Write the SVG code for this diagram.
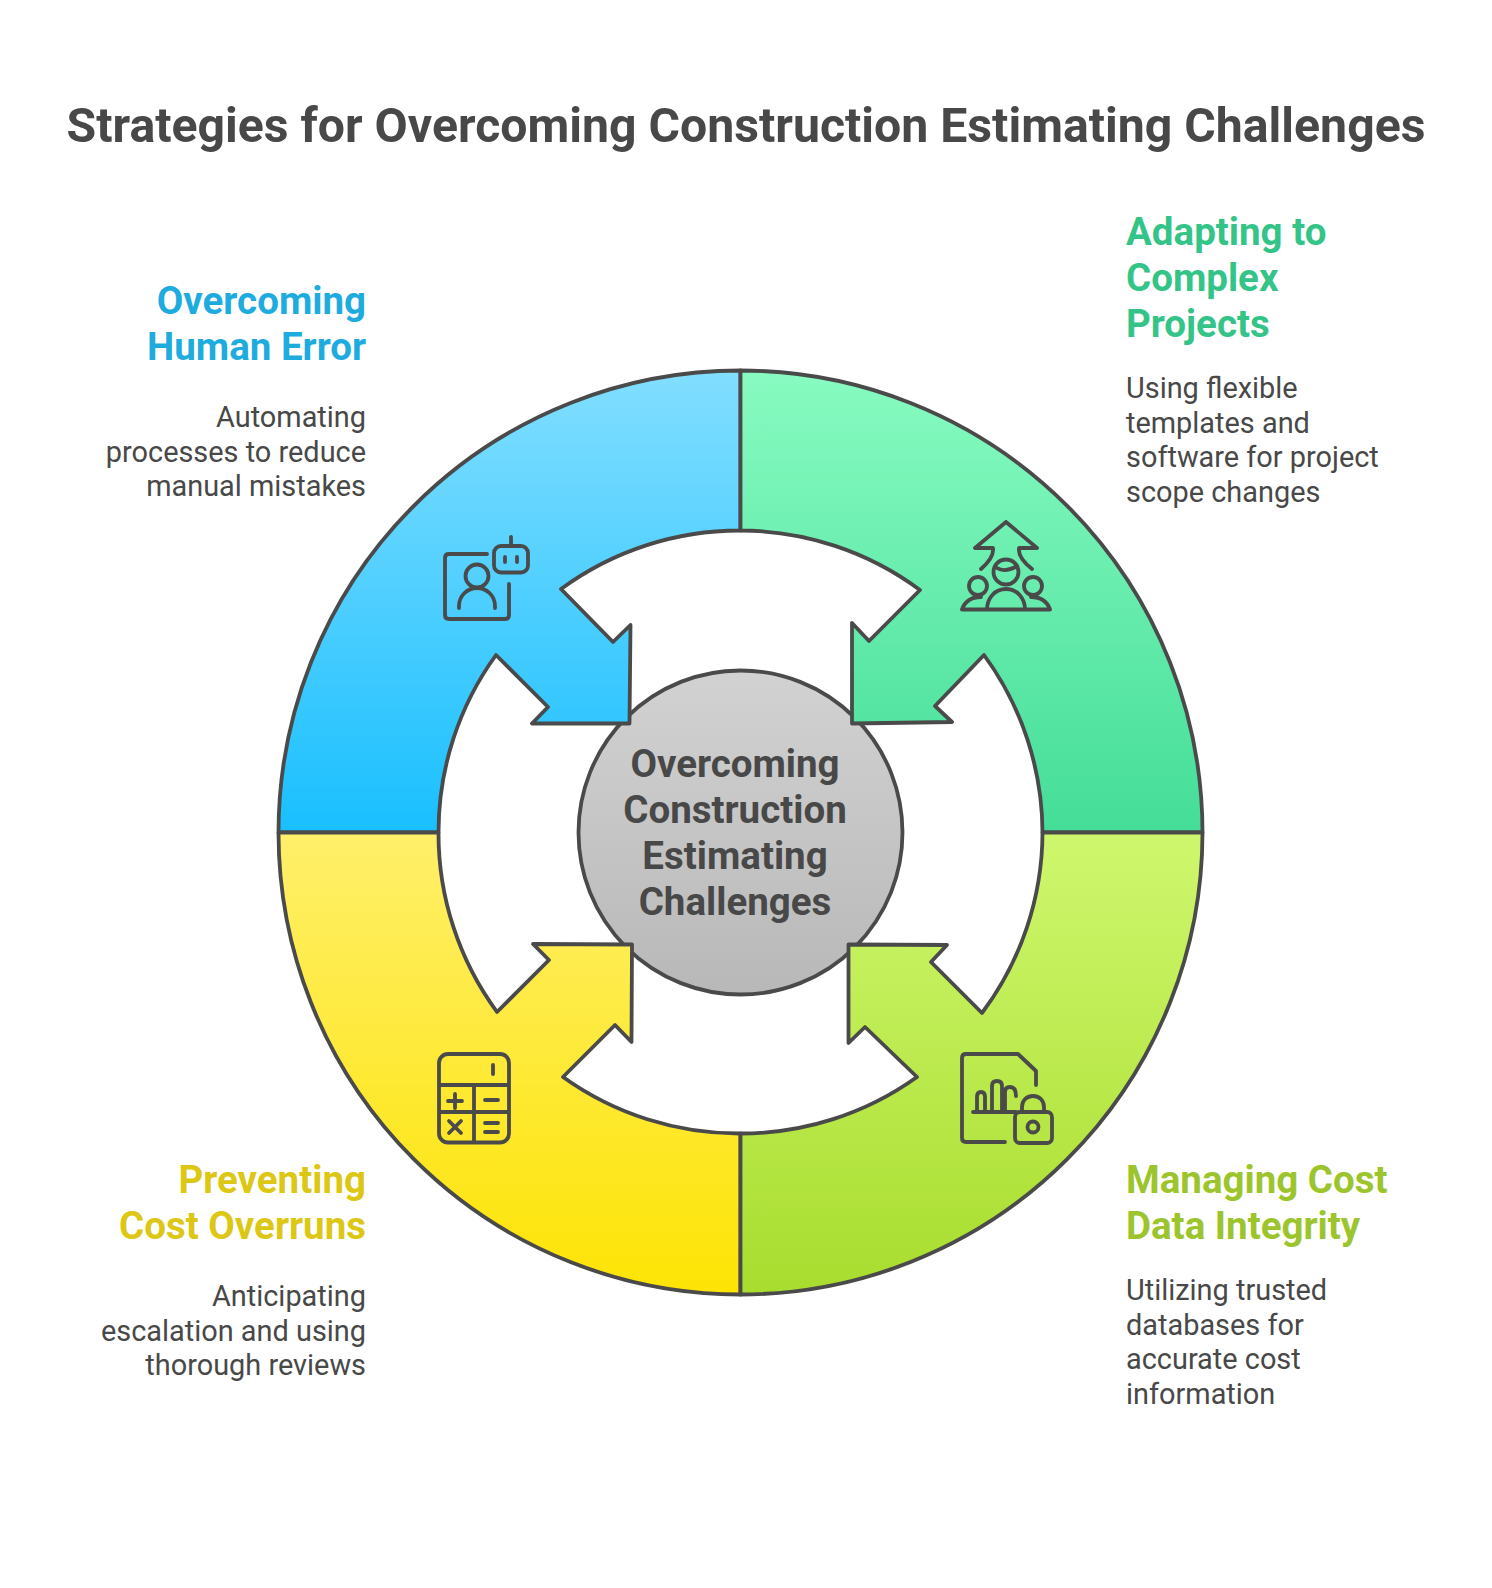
<svg xmlns="http://www.w3.org/2000/svg" width="1492" height="1588" viewBox="0 0 1492 1588">
<defs>
<linearGradient id="gb" x1="0" y1="370" x2="0" y2="833" gradientUnits="userSpaceOnUse"><stop offset="0" stop-color="#82deff"/><stop offset="1" stop-color="#19bfff"/></linearGradient>
<linearGradient id="gg" x1="0" y1="370" x2="0" y2="833" gradientUnits="userSpaceOnUse"><stop offset="0" stop-color="#88fbc1"/><stop offset="1" stop-color="#44dd98"/></linearGradient>
<linearGradient id="gy" x1="0" y1="833" x2="0" y2="1295" gradientUnits="userSpaceOnUse"><stop offset="0" stop-color="#ffef6a"/><stop offset="1" stop-color="#fde404"/></linearGradient>
<linearGradient id="gl" x1="0" y1="833" x2="0" y2="1295" gradientUnits="userSpaceOnUse"><stop offset="0" stop-color="#cff76e"/><stop offset="1" stop-color="#a8dd2e"/></linearGradient>
<linearGradient id="gc" x1="0" y1="670" x2="0" y2="995" gradientUnits="userSpaceOnUse"><stop offset="0" stop-color="#d2d2d2"/><stop offset="1" stop-color="#b8b8b8"/></linearGradient>
</defs>
<style>
.seg{stroke:#4a4a4a;stroke-width:3.8;stroke-linejoin:round}
.ic{fill:none;stroke:#4a4a4a;stroke-width:3.8;stroke-linecap:round;stroke-linejoin:round}
text{font-family:Roboto,"Liberation Sans",sans-serif}
.t{font-size:48.2px;font-weight:700;fill:#484848}
.h{font-size:38.5px;font-weight:700}
.b{font-size:28.9px;font-weight:400;fill:#484848}
.c{font-size:38.5px;font-weight:700;fill:#484848;text-anchor:middle}
.e{text-anchor:end}
</style>
<rect width="1492" height="1588" fill="#ffffff"/>
<text class="t" x="746" y="142" text-anchor="middle">Strategies for Overcoming Construction Estimating Challenges</text>
<g id="connectors"></g>
<g id="node-center-disc">
<circle class="seg" cx="740.500" cy="832.500" r="162" fill="url(#gc)"/>
</g>
<g id="node-blue">
<path class="seg" fill="url(#gb)" d="M740.500 370.500A462 462 0 0 0 278.500 832.500H438.500A302 302 0 0 1 496 655L548 707L532 723.500H629.500L630.500 625L613 642L561 589A302 302 0 0 1 740.500 530.500Z"/>
<g class="ic"><path d="M487 554H449Q445 554 445 558V615Q445 619 449 619H505Q509 619 509 615V584"/><rect x="494" y="546" width="34" height="26.500" rx="7"/><path d="M511 546V537M505 557V562M517 557V562"/><circle cx="477" cy="576" r="11.500"/><path d="M459 608V606C459 596 467 588 477 588C487 588 495 596 495 606V608"/></g>
<text class="h e" x="366" y="314" fill="#1eacdf">Overcoming</text><text class="h e" x="366" y="360" fill="#1eacdf">Human Error</text>
<text class="b e" x="366" y="427">Automating</text><text class="b e" x="366" y="461.500">processes to reduce</text><text class="b e" x="366" y="496">manual mistakes</text>
</g>
<g id="node-green">
<path class="seg" fill="url(#gg)" d="M740.500 370.500A462 462 0 0 1 1202.500 832.500H1042.500A302 302 0 0 0 984 655L935 706L952 722L852 723.500V623L869 641L920 590A302 302 0 0 0 740.500 530.500Z"/>
<g class="ic"><path d="M1006 522L975 548H993C994 555 990 561 981 569M1006 522L1037 548H1019C1018 555 1022 561 1032 569"/><circle cx="1006" cy="572" r="12.500"/><path d="M997 568Q1005 573 1017 566"/><path d="M962 609.500H1050M987 609.500C987 598 995 589 1006 589C1017 589 1025 598 1025 609.500M962 609.500C965 601 972 597 981 597M1050 609.500C1047 601 1040 597 1031 597"/><circle cx="978" cy="586" r="9"/><circle cx="1033" cy="586" r="9"/></g>
<text class="h" x="1126" y="245" fill="#35c488">Adapting to</text><text class="h" x="1126" y="291" fill="#35c488">Complex</text><text class="h" x="1126" y="337" fill="#35c488">Projects</text>
<text class="b" x="1126" y="398">Using flexible</text><text class="b" x="1126" y="432.500">templates and</text><text class="b" x="1126" y="467">software for project</text><text class="b" x="1126" y="501.500">scope changes</text>
</g>
<g id="node-yellow">
<path class="seg" fill="url(#gy)" d="M278.500 832.500A462 462 0 0 0 740.500 1294.500V1133.500A302 302 0 0 1 563 1077L615 1025L631.500 1042L632 944.500L533 944L549 960L497 1012A302 302 0 0 1 438.500 832.500Z"/>
<g class="ic"><rect x="439" y="1054" width="70" height="88.500" rx="9"/><path d="M440 1085H508M440 1112H508M474 1085V1142M493 1065V1074M448 1101H462M455 1094V1108M485 1100H498M449 1121L461 1133M461 1121L449 1133M485 1123H498M485 1132H498"/></g>
<text class="h e" x="366" y="1193" fill="#dcc714">Preventing</text><text class="h e" x="366" y="1239" fill="#dcc714">Cost Overruns</text>
<text class="b e" x="366" y="1306">Anticipating</text><text class="b e" x="366" y="1340.500">escalation and using</text><text class="b e" x="366" y="1375">thorough reviews</text>
</g>
<g id="node-lime">
<path class="seg" fill="url(#gl)" d="M1202.500 832.500A462 462 0 0 1 740.500 1294.500V1133.500A302 302 0 0 0 917 1077L865 1027L848.500 1043V944.500L947 945L931 962L982 1013A302 302 0 0 0 1042.500 832.500Z"/>
<g class="ic"><path d="M1005 1142H966Q962 1142 962 1138V1058Q962 1054 966 1054H1018L1036 1071V1085"/><path d="M973 1112H1016M977 1112V1097Q977 1092 981 1092Q985 1092 985 1097V1112M992 1112V1086Q992 1081 997 1081Q1002 1081 1002 1086V1112M1005 1112V1092Q1005 1087 1010 1087Q1016 1087 1016 1096"/><rect x="1015" y="1112" width="37" height="31" rx="5"/><path d="M1022 1112V1107C1022 1101 1026 1096 1033 1096C1040 1096 1044 1101 1044 1107V1112"/><circle cx="1033" cy="1127" r="5.500"/></g>
<text class="h" x="1126" y="1193" fill="#9cc52d">Managing Cost</text><text class="h" x="1126" y="1239" fill="#9cc52d">Data Integrity</text>
<text class="b" x="1126" y="1300">Utilizing trusted</text><text class="b" x="1126" y="1334.500">databases for</text><text class="b" x="1126" y="1369">accurate cost</text><text class="b" x="1126" y="1404">information</text>
</g>
<g id="node-center">
<text class="c" x="735" y="777">Overcoming</text><text class="c" x="735" y="823">Construction</text><text class="c" x="735" y="869">Estimating</text><text class="c" x="735" y="915">Challenges</text>
</g>
</svg>
